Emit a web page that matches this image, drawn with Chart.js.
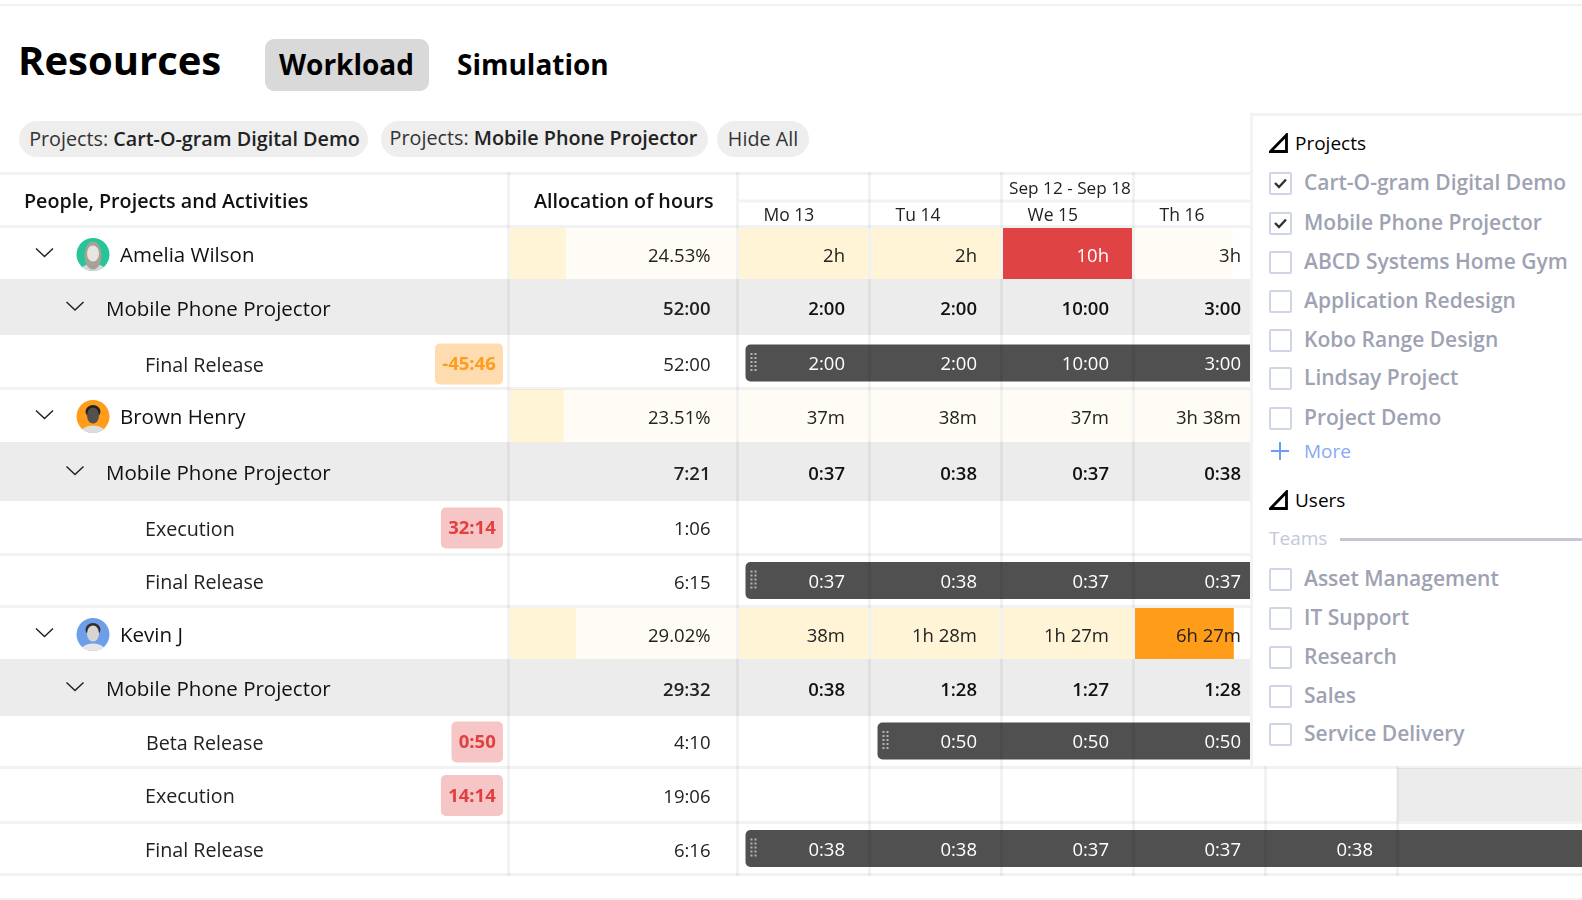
<!DOCTYPE html>
<html>
<head>
<meta charset="UTF-8">
<script src="https://cdn.jsdelivr.net/npm/chart.js@4/dist/chart.umd.min.js"></script>
<style>
	body { margin:0; background:#fff; font-family:"Open Sans",sans-serif; overflow:hidden; width:1582px; height:900px; position:relative; }
	.abs { position:absolute; white-space:nowrap; }
	.pill { position:absolute; top:121px; height:36px; line-height:35px; background:#eeeeee; border-radius:18px; font-size:19.75px; color:#333; white-space:nowrap; text-align:center; box-sizing:border-box; }
	.pill b { font-weight:600; color:#222; }
	#panel { position:absolute; left:1250px; top:113px; width:332px; height:653px; background:#fff; border-left:3px solid #f3f3f3; border-top:3px solid #f3f3f3; box-sizing:border-box; z-index:5; }
	#table { position:absolute; left:0; top:172px; }
</style>
</head>
<body>
	<div class="abs" style="left:0;top:4px;width:1582px;height:2px;background:#f4f1ea"></div>
	<div class="abs" style="left:0;top:898px;width:1582px;height:2px;background:#f4efe8"></div>
	<div class="abs" style="left:18px;top:33px;font-size:40px;font-weight:700;color:#000;line-height:54px">Resources</div>
	<div class="abs" style="left:265px;top:39px;width:164px;height:52px;border-radius:9px;background:#d9d9d9"></div>
	<div class="abs" style="left:279px;top:44px;font-size:28px;font-weight:700;color:#000;line-height:40px">Workload</div>
	<div class="abs" style="left:457px;top:44px;font-size:28px;font-weight:700;color:#000;line-height:40px">Simulation</div>
	<div class="pill" style="left:19px;width:349px;padding-left:2px">Projects: <b>Cart-O-gram Digital Demo</b></div>
	<div class="pill" style="left:381px;width:327px;line-height:33px;padding-right:2px">Projects: <b>Mobile Phone Projector</b></div>
	<div class="pill" style="left:717px;width:92px">Hide All</div>
	<canvas id="table" width="1582" height="704" style="width:1582px;height:704px"></canvas>
	<div id="panel"></div>

<script>
// rows of the table, top to bottom
const rowNames = ["Amelia Wilson","Mobile Phone Projector","Final Release","Brown Henry","Mobile Phone Projector","Execution","Final Release","Kevin J","Mobile Phone Projector","Beta Release","Execution","Final Release"];
const rowKinds = ["person","project","task","person","project","task","task","person","project","task","task","task"];
const allocLabels = ["24.53%","52:00","52:00","23.51%","7:21","1:06","6:15","29.02%","29:32","4:10","19:06","6:16"];
const dayLabels = ["Mo 13","Tu 14","We 15","Th 16"];
const weekLabel = "Sep 12 - Sep 18";

// person rows
const personRows = [0,3,7];
const personShares = [24.53,23.51,29.02];
const ameliaLoad = ["2h","2h","10h","3h"];
const ameliaLevels = ["ok","ok","over","low"];
const ameliaFill = [1,1,1,0.75];
const brownLoad = ["37m","38m","37m","3h 38m"];
const brownLevels = ["low","low","low","low"];
const brownFill = [1,1,1,1];
const kevinLoad = ["38m","1h 28m","1h 27m","6h 27m"];
const kevinLevels = ["ok","ok","ok","high"];
const kevinFill = [1,1,1,0.76];

// project rows
const projectRows = [1,4,8];
const ameliaProject = ["2:00","2:00","10:00","3:00"];
const brownProject = ["0:37","0:38","0:37","0:38"];
const kevinProject = ["0:38","1:28","1:27","1:28"];

// activity bars, first day and last day in columns
const taskRows = [2,6,9,11];
const taskStarts = [0,0,1,0];
const taskEnds = [7,7,7,7];
const ameliaFinal = ["2:00","2:00","10:00","3:00"];
const brownFinal = ["0:37","0:38","0:37","0:37"];
const kevinBeta = [null,"0:50","0:50","0:50"];
const kevinFinal = ["0:38","0:38","0:37","0:37","0:38"];

// float badges
const badgeRows = [2,5,9,10];
const badgeLabels = ["-45:46","32:14","0:50","14:14"];
const badgeKinds = ["warn","late","late","late"];

// day off on Execution row
const dayOffRow = 10;
const dayOffStart = 5;
const dayOffEnd = 7;

// filter panel
const projectFilters = ["Cart-O-gram Digital Demo","Mobile Phone Projector","ABCD Systems Home Gym","Application Redesign","Kobo Range Design","Lindsay Project","Project Demo"];
const projectChecked = [true,true,false,false,false,false,false];
const teamFilters = ["Asset Management","IT Support","Research","Sales","Service Delivery"];

// layout
const rowTops = [228,279,339,389,442,501,556,608,659,716,768,824];
const rowBottoms = [279,335,387,442,501,553,605,659,716,766,821,873];
const separators = [173.5,226.5,388,554.5,606.5,767,822.5,874];
const dayWidth = 132, dayOrigin = 737.5, allocWidth = 228;
const allocStart = -(dayOrigin - 508.5) / dayWidth;
const colLines = [allocStart,0,1,2,3,4,5];
const sepColor = "rgba(0,0,0,0.05)";
const levelColors = {low:"#fffcf6", ok:"#fff5d6", over:"#e04343", high:"#ff9c1a"};
const badgeStyle = {warn:{bg:"#ffdcb0",fg:"#ff9b1e"}, late:{bg:"#f6c5c5",fg:"#e04040"}};
const avatarStyle = [
	{bg:"#27c49a", hair:"#a8a196", skin:"#e8e4e0", body:"#d8d8d8", long:true},
	{bg:"#ff9c1a", hair:"#222222", skin:"#55504c", body:"#dddddd", long:false},
	{bg:"#6f9ee8", hair:"#2e2e2e", skin:"#d8d4d0", body:"#e6e6e6", long:false}
];

const rowCenter = i => (rowTops[i] + rowBottoms[i]) / 2;
const rowHeight = i => rowBottoms[i] - rowTops[i];
const px = n => n / dayWidth;

var loads = [ameliaLoad,brownLoad,kevinLoad];
var levels = [ameliaLevels,brownLevels,kevinLevels];
var fills = [ameliaFill,brownFill,kevinFill];
var projects = [ameliaProject,brownProject,kevinProject];
var tasks = [ameliaFinal,brownFinal,kevinBeta,kevinFinal];

function rowBars(i, ranges, color, order, extra) {
	return Object.assign({
		stack:"rows", order:order, barThickness:rowHeight(i), backgroundColor:color,
		borderSkipped:false, inflateAmount:0,
		data:ranges.map(r => ({x:r, y:rowCenter(i)}))
	}, extra || {});
}

var datasets = [];
// grey project bands
projectRows.forEach(i => datasets.push(rowBars(i, [[-6,7]], "#ececec", 9)));
datasets.push(rowBars(dayOffRow, [[dayOffStart,dayOffEnd]], "#ececec", 9));
// allocation column and day cells of each person
personRows.forEach((i,p) => {
	var inset = px(1.5);
	datasets.push(rowBars(i, [[allocStart + inset, -inset]], levelColors.low, 8));
	datasets.push(rowBars(i, [[allocStart + inset, allocStart + inset + px(allocWidth) * personShares[p] / 100]], levelColors.ok, 7));
	datasets.push(rowBars(i, fills[p].map((f,d) => [d + inset, d + f - (f < 1 ? 0 : inset)]), levels[p].map(l => levelColors[l]), 7));
});
// dark activity bars
taskRows.forEach((i,t) => {
	datasets.push(rowBars(i, [[taskStarts[t] + px(8), taskEnds[t]]], "#505050", 6, {barThickness:37, borderRadius:5}));
});
// line under the week label
datasets.push({stack:"rows", order:5, barThickness:3, backgroundColor:sepColor, inflateAmount:0, borderSkipped:false, data:[{x:[0,7], y:201}]});

function text(ctx, str, x, y, font, color, align) {
	ctx.font = font;
	ctx.fillStyle = color;
	ctx.textAlign = align || "left";
	ctx.textBaseline = "middle";
	ctx.fillText(str, x, y);
}

function chevron(ctx, cx, cy) {
	ctx.strokeStyle = "#222";
	ctx.lineWidth = 1.5;
	ctx.beginPath();
	ctx.moveTo(cx - 8.5, cy - 4);
	ctx.lineTo(cx, cy + 4);
	ctx.lineTo(cx + 8.5, cy - 4);
	ctx.stroke();
}

function avatar(ctx, cx, cy, st) {
	ctx.save();
	ctx.beginPath();
	ctx.arc(cx, cy, 16.5, 0, Math.PI * 2);
	ctx.fillStyle = st.bg;
	ctx.fill();
	ctx.clip();
	ctx.fillStyle = st.body;
	ctx.beginPath();
	ctx.ellipse(cx, cy + 19, 14, 10, 0, 0, Math.PI * 2);
	ctx.fill();
	ctx.fillStyle = st.hair;
	ctx.beginPath();
	if (st.long) ctx.ellipse(cx, cy + 1, 8.5, 14, 0, 0, Math.PI * 2);
	else ctx.ellipse(cx, cy - 5, 7.5, 6.5, 0, 0, Math.PI * 2);
	ctx.fill();
	ctx.fillStyle = st.skin;
	ctx.beginPath();
	ctx.ellipse(cx, cy - 1, 6, 8, 0, 0, Math.PI * 2);
	ctx.fill();
	ctx.restore();
}

var tableText = {
	id:"tableText",
	afterDraw(chart) {
		var ctx = chart.ctx, xs = chart.scales.x, ys = chart.scales.y;
		var regular = "400 19.7px 'Open Sans'", semi = "500 20.5px 'Open Sans'";
		var numReg = "400 18.5px 'Open Sans'", numSemi = "600 18.5px 'Open Sans'";
		var dx = d => xs.getPixelForValue(d + 1) - 24.5;
		ctx.save();

		// header
		text(ctx, "People, Projects and Activities", 24, ys.getPixelForValue(202), "600 19.7px 'Open Sans'", "#111");
		text(ctx, "Allocation of hours", 534, ys.getPixelForValue(202), "600 19.7px 'Open Sans'", "#111");
		text(ctx, weekLabel, xs.getPixelForValue(2) + 7.5, ys.getPixelForValue(189), "400 17.2px 'Open Sans'", "#222");
		dayLabels.forEach((l,d) => text(ctx, l, xs.getPixelForValue(d) + 26, ys.getPixelForValue(216), "400 17.5px 'Open Sans'", "#222"));

		// left columns
		rowNames.forEach((name,i) => {
			var y = ys.getPixelForValue(rowCenter(i)) + 3;
			var kind = rowKinds[i];
			if (kind == "person") {
				chevron(ctx, 44.5, y - 4);
				avatar(ctx, 93, y - 2, avatarStyle[personRows.indexOf(i)]);
				text(ctx, name, 120, y, semi, "#111");
			} else if (kind == "project") {
				chevron(ctx, 75, y - 4);
				text(ctx, name, 106, y, semi, "#111");
			} else {
				text(ctx, name, name == "Beta Release" ? 146 : 145, y, regular, "#222");
			}
			text(ctx, allocLabels[i], 710.5, y, kind == "project" ? numSemi : numReg, "#222", "right");
		});

		// badges
		badgeRows.forEach((i,b) => {
			var st = badgeStyle[badgeKinds[b]], y = ys.getPixelForValue(rowCenter(i)) + 1;
			ctx.font = "700 18.5px 'Open Sans'";
			var w = ctx.measureText(badgeLabels[b]).width + 14.5;
			ctx.fillStyle = st.bg;
			ctx.beginPath();
			ctx.roundRect(503 - w, y - 20.5, w, 41, 5);
			ctx.fill();
			text(ctx, badgeLabels[b], 503 - w / 2, y + 1, "700 18.5px 'Open Sans'", st.fg, "center");
		});

		// day values
		personRows.forEach((i,p) => loads[p].forEach((v,d) => {
			text(ctx, v, dx(d), ys.getPixelForValue(rowCenter(i)) + 3, numReg, levels[p][d] == "over" ? "#fff" : "#222", "right");
		}));
		projectRows.forEach((i,p) => projects[p].forEach((v,d) => {
			text(ctx, v, dx(d), ys.getPixelForValue(rowCenter(i)) + 3, numSemi, "#111", "right");
		}));
		taskRows.forEach((i,t) => {
			var y = ys.getPixelForValue(rowCenter(i)) + 2;
			tasks[t].forEach((v,d) => { if (v) text(ctx, v, dx(d), y, numReg, "#fff", "right"); });
			// drag grip
			var gx = xs.getPixelForValue(taskStarts[t]) + 13;
			ctx.fillStyle = "#b5b5b5";
			for (var k = 0; k < 5; k++) {
				ctx.fillRect(gx, y - 12 + k * 4, 2, 2);
				ctx.fillRect(gx + 4, y - 12 + k * 4, 2, 2);
			}
		});
		ctx.restore();
	}
};

new Chart("table", {
	type:"bar",
	data:{datasets:datasets},
	plugins:[tableText],
	options:{
		indexAxis:"y",
		responsive:false,
		animation:false,
		events:[],
		layout:{padding:0},
		plugins:{legend:{display:false}, tooltip:{enabled:false}, title:{display:false}},
		scales:{
			x:{
				type:"linear", stacked:false, offset:false,
				min:-dayOrigin / dayWidth, max:(1582 - dayOrigin) / dayWidth,
				afterBuildTicks:s => { s.ticks = colLines.map(v => ({value:v})); },
				grid:{color:sepColor, lineWidth:3, z:1, drawTicks:false},
				border:{display:false},
				ticks:{display:false}
			},
			y:{
				type:"linear", reverse:true, offset:false,
				min:172, max:876,
				afterBuildTicks:s => { s.ticks = separators.map(v => ({value:v})); },
				grid:{color:sepColor, lineWidth:3, z:1, drawTicks:false, offset:false},
				border:{display:false},
				ticks:{display:false}
			}
		}
	}
});

// filter panel, plain html
var panel = document.getElementById("panel");
var panelLeft = 1250, panelTop = 113;
function put(html, left, top) {
	var d = document.createElement("div");
	d.className = "abs";
	d.style.left = (left - panelLeft - 3) + "px";
	d.style.top = (top - panelTop - 3) + "px";
	d.innerHTML = html;
	panel.appendChild(d);
	return d;
}
function heading(label, y) {
	put('<svg width="20" height="20"><path d="M1.5 18.5 L17.5 2 L17.5 18.5 Z" fill="none" stroke="#000" stroke-width="2.8"/></svg>', 1269, y - 10);
	put('<span style="font-size:19px;font-weight:500;color:#000;line-height:24px">' + label + '</span>', 1295, y - 12);
}
function filterItem(label, y, checked) {
	var tick = checked ? '<path d="M6 11 L10 15 L17 7.5" fill="none" stroke="#333" stroke-width="2.4"/>' : '';
	put('<svg width="23" height="23"><rect x="1" y="1" width="21" height="21" rx="1" fill="#fff" stroke="#cfd4e6" stroke-width="2"/>' + tick + '</svg>', 1269, y - 11);
	put('<span style="font-size:21px;font-weight:600;color:#9ea2b2;line-height:30px">' + label + '</span>', 1304, y - 16);
}
var projectY = [183,223,262,301,340,378,418];
var teamY = [579,618,657,696,734];
heading("Projects", 143);
projectFilters.forEach((p,i) => filterItem(p, projectY[i], projectChecked[i]));
put('<svg width="20" height="20"><path d="M10 1 V19 M1 10 H19" stroke="#6c9cf5" stroke-width="2"/></svg>', 1270, 441);
put('<span style="font-size:19px;font-weight:500;color:#86aaf8;line-height:28px">More</span>', 1304, 437);
heading("Users", 500);
put('<span style="font-size:19px;font-weight:500;color:#c3c8da;line-height:26px">Teams</span>', 1269, 525);
put('<div style="width:242px;height:2.5px;background:#c3c7d8"></div>', 1340, 538);
teamFilters.forEach((t,i) => filterItem(t, teamY[i], false));
</script>
</body>
</html>
